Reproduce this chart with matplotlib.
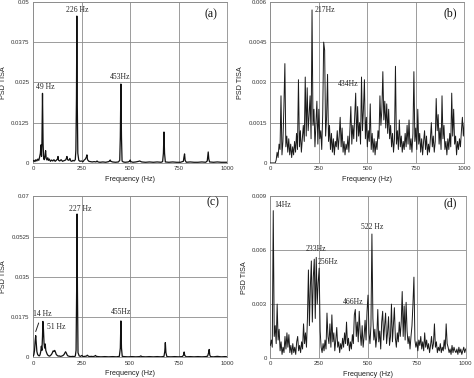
import numpy as np
import matplotlib
matplotlib.use("Agg")
import matplotlib.pyplot as plt

# ---------------- data (PSD values in units of 1e-4) ----------------
a_freq = [0, 5, 10, 15, 20, 25, 30, 34, 38, 41, 44, 46, 49, 52, 55, 58, 62, 65, 68, 72, 76, 80, 84, 90, 96,
          102, 108, 114, 120, 126, 129, 132, 138, 145, 152, 160, 168, 172, 175, 178, 185, 190, 195, 200, 206,
          212, 218, 221, 224, 226, 228, 231, 236, 242, 250, 258, 264, 270, 275, 278, 281, 288, 296, 305, 315,
          325, 330, 335, 345, 360, 375, 390, 395, 398, 401, 410, 425, 440, 447, 450, 453, 456, 459, 465, 475,
          490, 498, 501, 504, 515, 530, 545, 550, 560, 580, 600, 620, 640, 660, 668, 672, 675, 678, 682, 700,
          720, 740, 760, 775, 778, 781, 784, 790, 810, 830, 850, 870, 890, 898, 903, 906, 910, 930, 950, 970,
          990, 1000]
a_vals = [5, 8, 4, 10, 6, 12, 8, 18, 30, 56, 20, 60, 216, 60, 15, 10, 22, 38, 14, 9, 16, 8, 12, 5, 9,
          6, 10, 5, 8, 12, 20, 8, 6, 10, 5, 7, 9, 14, 20, 10, 8, 14, 6, 5, 8,
          6, 10, 40, 200, 456, 200, 30, 8, 5, 6, 4, 9, 12, 18, 25, 10, 5, 4, 3, 4,
          3, 6, 3, 2, 3, 2, 4, 6, 9, 5, 3, 2, 3, 8, 80, 245, 80, 6, 3, 2,
          3, 5, 9, 4, 2, 3, 5, 6, 3, 2, 3, 2, 3, 2, 4, 30, 96, 30, 3, 2,
          3, 2, 2, 5, 18, 28, 8, 2, 3, 2, 2, 3, 2, 6, 34, 12, 3, 2, 3, 2,
          2, 2]

b_freq = list(range(0, 1001, 5))
b_vals = [0, 0, 0, 0, 0, 0, 1, 4, 2, 7, 5, 25, 3, 8, 21, 37, 6, 10, 4, 9,
          3, 7, 2, 6, 3, 8, 4, 11, 5, 31, 6, 12, 4, 9, 14, 8, 32, 10, 28, 12,
          18, 25, 9, 57, 14, 20, 6, 15, 23, 7, 20, 9, 12, 5, 18, 45, 42, 10, 17, 33,
          8, 14, 5, 11, 4, 9, 3, 8, 6, 12, 5, 10, 17, 6, 13, 4, 8, 3, 7, 5,
          10, 4, 12, 21, 7, 14, 9, 18, 26, 8, 21, 10, 15, 7, 32, 12, 20, 31, 9, 17,
          6, 12, 8, 22, 5, 11, 4, 9, 3, 8, 5, 12, 9, 25, 14, 20, 34, 16, 23, 13,
          22, 11, 20, 9, 14, 6, 11, 4, 9, 36, 7, 12, 5, 16, 6, 10, 4, 8, 5, 11,
          6, 14, 7, 16, 5, 9, 4, 11, 34, 8, 13, 5, 20, 7, 11, 4, 9, 3, 8, 12,
          5, 10, 3, 7, 4, 9, 15, 6, 10, 4, 8, 24, 12, 18, 7, 13, 5, 25, 9, 14,
          5, 8, 3, 9, 5, 11, 6, 26, 10, 20, 7, 10, 3, 8, 5, 9, 6, 12, 17, 10,
          15]

c_freq = [0, 4, 8, 11, 14, 17, 20, 24, 28, 32, 36, 40, 43, 46, 49, 51, 54, 57, 60, 63, 66, 70, 74, 78, 82,
          86, 90, 95, 100, 104, 108, 112, 116, 120, 125, 130, 135, 140, 148, 155, 160, 165, 168, 172, 176,
          180, 188, 196, 205, 212, 218, 222, 225, 227, 229, 232, 238, 245, 252, 258, 266, 275, 280, 285, 292,
          300, 310, 318, 322, 326, 335, 350, 370, 390, 410, 430, 445, 450, 453, 456, 460, 470, 490, 510, 530,
          550, 556, 560, 580, 600, 620, 640, 660, 675, 679, 682, 685, 690, 710, 730, 750, 770, 776, 779, 782,
          790, 810, 830, 850, 870, 890, 900, 905, 908, 911, 915, 930, 950, 970, 990, 1000]
c_vals = [5, 10, 30, 70, 94, 60, 25, 12, 8, 6, 10, 25, 48, 30, 90, 156, 120, 60, 40, 58, 30, 20, 12, 8, 6,
          5, 8, 12, 20, 28, 25, 30, 22, 12, 8, 5, 6, 4, 5, 8, 12, 20, 24, 18, 10,
          6, 4, 3, 4, 3, 5, 30, 300, 623, 300, 20, 6, 4, 8, 3, 4, 5, 9, 5, 3,
          4, 3, 5, 8, 4, 3, 2, 3, 2, 3, 2, 4, 40, 158, 40, 4, 3, 2, 3, 2,
          3, 6, 3, 2, 3, 2, 3, 2, 4, 25, 64, 20, 3, 2, 3, 2, 3, 10, 23, 8,
          2, 3, 2, 3, 2, 3, 5, 20, 34, 10, 3, 2, 4, 2, 3, 2]

d_freq = list(range(0, 1001, 5))
d_vals = [7, 10, 6, 82, 12, 18, 8, 30, 10, 16, 4, 9, 2, 6, 3, 12, 5, 14, 6, 13,
          3, 7, 2, 8, 3, 6, 2, 9, 12, 4, 7, 3, 9, 5, 19, 8, 14, 6, 22, 49,
          18, 40, 54, 20, 45, 55, 22, 56, 30, 42, 50, 15, 6, 3, 8, 4, 10, 5, 25, 12,
          8, 19, 6, 24, 9, 14, 4, 10, 17, 6, 9, 3, 8, 5, 11, 6, 14, 8, 20, 7,
          11, 4, 9, 5, 13, 8, 24, 27, 12, 20, 9, 26, 14, 7, 18, 6, 12, 21, 10, 26,
          35, 14, 8, 18, 69, 22, 10, 16, 6, 12, 27, 9, 15, 5, 20, 26, 10, 18, 25, 8,
          14, 23, 7, 12, 30, 9, 18, 28, 11, 6, 14, 9, 20, 12, 20, 37, 12, 29, 10, 31,
          15, 8, 12, 5, 12, 18, 30, 45, 10, 6, 9, 4, 10, 7, 12, 5, 9, 4, 14, 6,
          10, 5, 8, 3, 7, 12, 5, 8, 19, 6, 9, 3, 6, 4, 8, 3, 6, 4, 10, 5,
          19, 8, 6, 3, 5, 2, 7, 3, 6, 4, 3, 5, 2, 6, 3, 5, 2, 4, 6, 3,
          5]

x_ticks = [0, 250, 500, 750, 1000]
a_yticks = [0, 0.0125, 0.025, 0.0375, 0.05]
b_yticks = [0, 0.0015, 0.003, 0.0045, 0.006]
c_yticks = [0, 0.0175, 0.035, 0.0525, 0.07]
d_yticks = [0, 0.003, 0.006, 0.009]
a_ytlabels = ["0", "0.0125", "0.025", "0.0375", "0.05"]
b_ytlabels = ["0", "0.0015", "0.003", "0.0045", "0.006"]
c_ytlabels = ["0", "0.0175", "0.035", "0.0525", "0.07"]
d_ytlabels = ["0", "0.003", "0.006", "0.009"]

SCALE = 1e-4

# ---------------- figure ----------------
fig = plt.figure(figsize=(4.74, 3.78), dpi=100)
SANS = ["Liberation Sans", "DejaVu Sans"]
SERIF = ["Liberation Serif", "DejaVu Serif"]

boxes = {
    "a": [0.0696, 0.569, 0.4094, 0.426],
    "b": [0.5703, 0.569, 0.4093, 0.426],
    "c": [0.0696, 0.0548, 0.4094, 0.4259],
    "d": [0.5703, 0.0529, 0.4122, 0.4278],
}

panels = {
    "a": (a_freq, a_vals, a_yticks, a_ytlabels, 0.9, "#111111"),
    "b": (b_freq, b_vals, b_yticks, b_ytlabels, 0.7, "#1a1a1a"),
    "c": (c_freq, c_vals, c_yticks, c_ytlabels, 0.9, "#111111"),
    "d": (d_freq, d_vals, d_yticks, d_ytlabels, 0.7, "#1a1a1a"),
}

axes = {}
for key, (fr, vals, yt, ytl, lw, col) in panels.items():
    ax = fig.add_axes(boxes[key])
    axes[key] = ax
    ax.plot(fr, np.array(vals) * SCALE, color=col, lw=lw, zorder=3)
    ax.set_xlim(0, 1000)
    ax.set_ylim(yt[0], yt[-1])
    ax.set_xticks(x_ticks)
    ax.set_xticklabels([str(t) for t in x_ticks], family=SANS, fontsize=4.3)
    ax.set_yticks(yt)
    ax.set_yticklabels(ytl, family=SANS, fontsize=4.3)
    ax.tick_params(length=0, pad=2.5, colors="#333333")
    ax.grid(True, color="#8c8c8c", lw=0.6, zorder=0)
    for s in ax.spines.values():
        s.set_color("#8c8c8c")
        s.set_linewidth(0.6)
    ax.set_xlabel("Frequency (Hz)", family=SANS, fontsize=5.2, labelpad=3, color="#222222")
    ax.set_ylabel("PSD TISA", family=SANS, fontsize=5.2, labelpad=3, color="#222222")

ann = dict(family=SERIF, fontsize=5.5, ha="center", va="center", color="#222222")
lab = dict(family=SERIF, fontsize=8.5, ha="center", va="center", color="#111111")

ax = axes["a"]
ax.text(227, 0.0474, "226 Hz", **ann)
ax.text(64, 0.0237, "49 Hz", **ann)
ax.text(447, 0.0268, "453Hz", **ann)
ax.text(919, 0.0462, "(a)", **lab)

ax = axes["b"]
ax.text(228, 0.0057, "217Hz", ha="left", va="center", family=SERIF, fontsize=5.5, color="#222222")
ax.text(400, 0.00294, "434Hz", **ann)
ax.text(928, 0.00556, "(b)", **lab)

ax = axes["c"]
ax.text(244, 0.0646, "227 Hz", **ann)
ax.text(455, 0.0196, "455Hz", **ann)
ax.annotate("14 Hz", xy=(14, 0.0112), xytext=(46, 0.019), family=SERIF, fontsize=5.5,
            ha="center", va="center", color="#222222",
            arrowprops=dict(arrowstyle="-", lw=0.7, color="#222222", shrinkA=2, shrinkB=0))
ax.text(120, 0.013, "51 Hz", **ann)
ax.text(928, 0.0675, "(c)", **lab)

ax = axes["d"]
ax.text(22, 0.00854, "14Hz", ha="left", va="center", family=SERIF, fontsize=5.5, color="#222222")
ax.text(234, 0.00607, "233Hz", **ann)
ax.text(295, 0.00534, "256Hz", **ann)
ax.text(522, 0.00727, "522 Hz", **ann)
ax.text(423, 0.00312, "466Hz", **ann)
ax.text(921, 0.00863, "(d)", **lab)

fig.savefig("out.png", dpi=100)
